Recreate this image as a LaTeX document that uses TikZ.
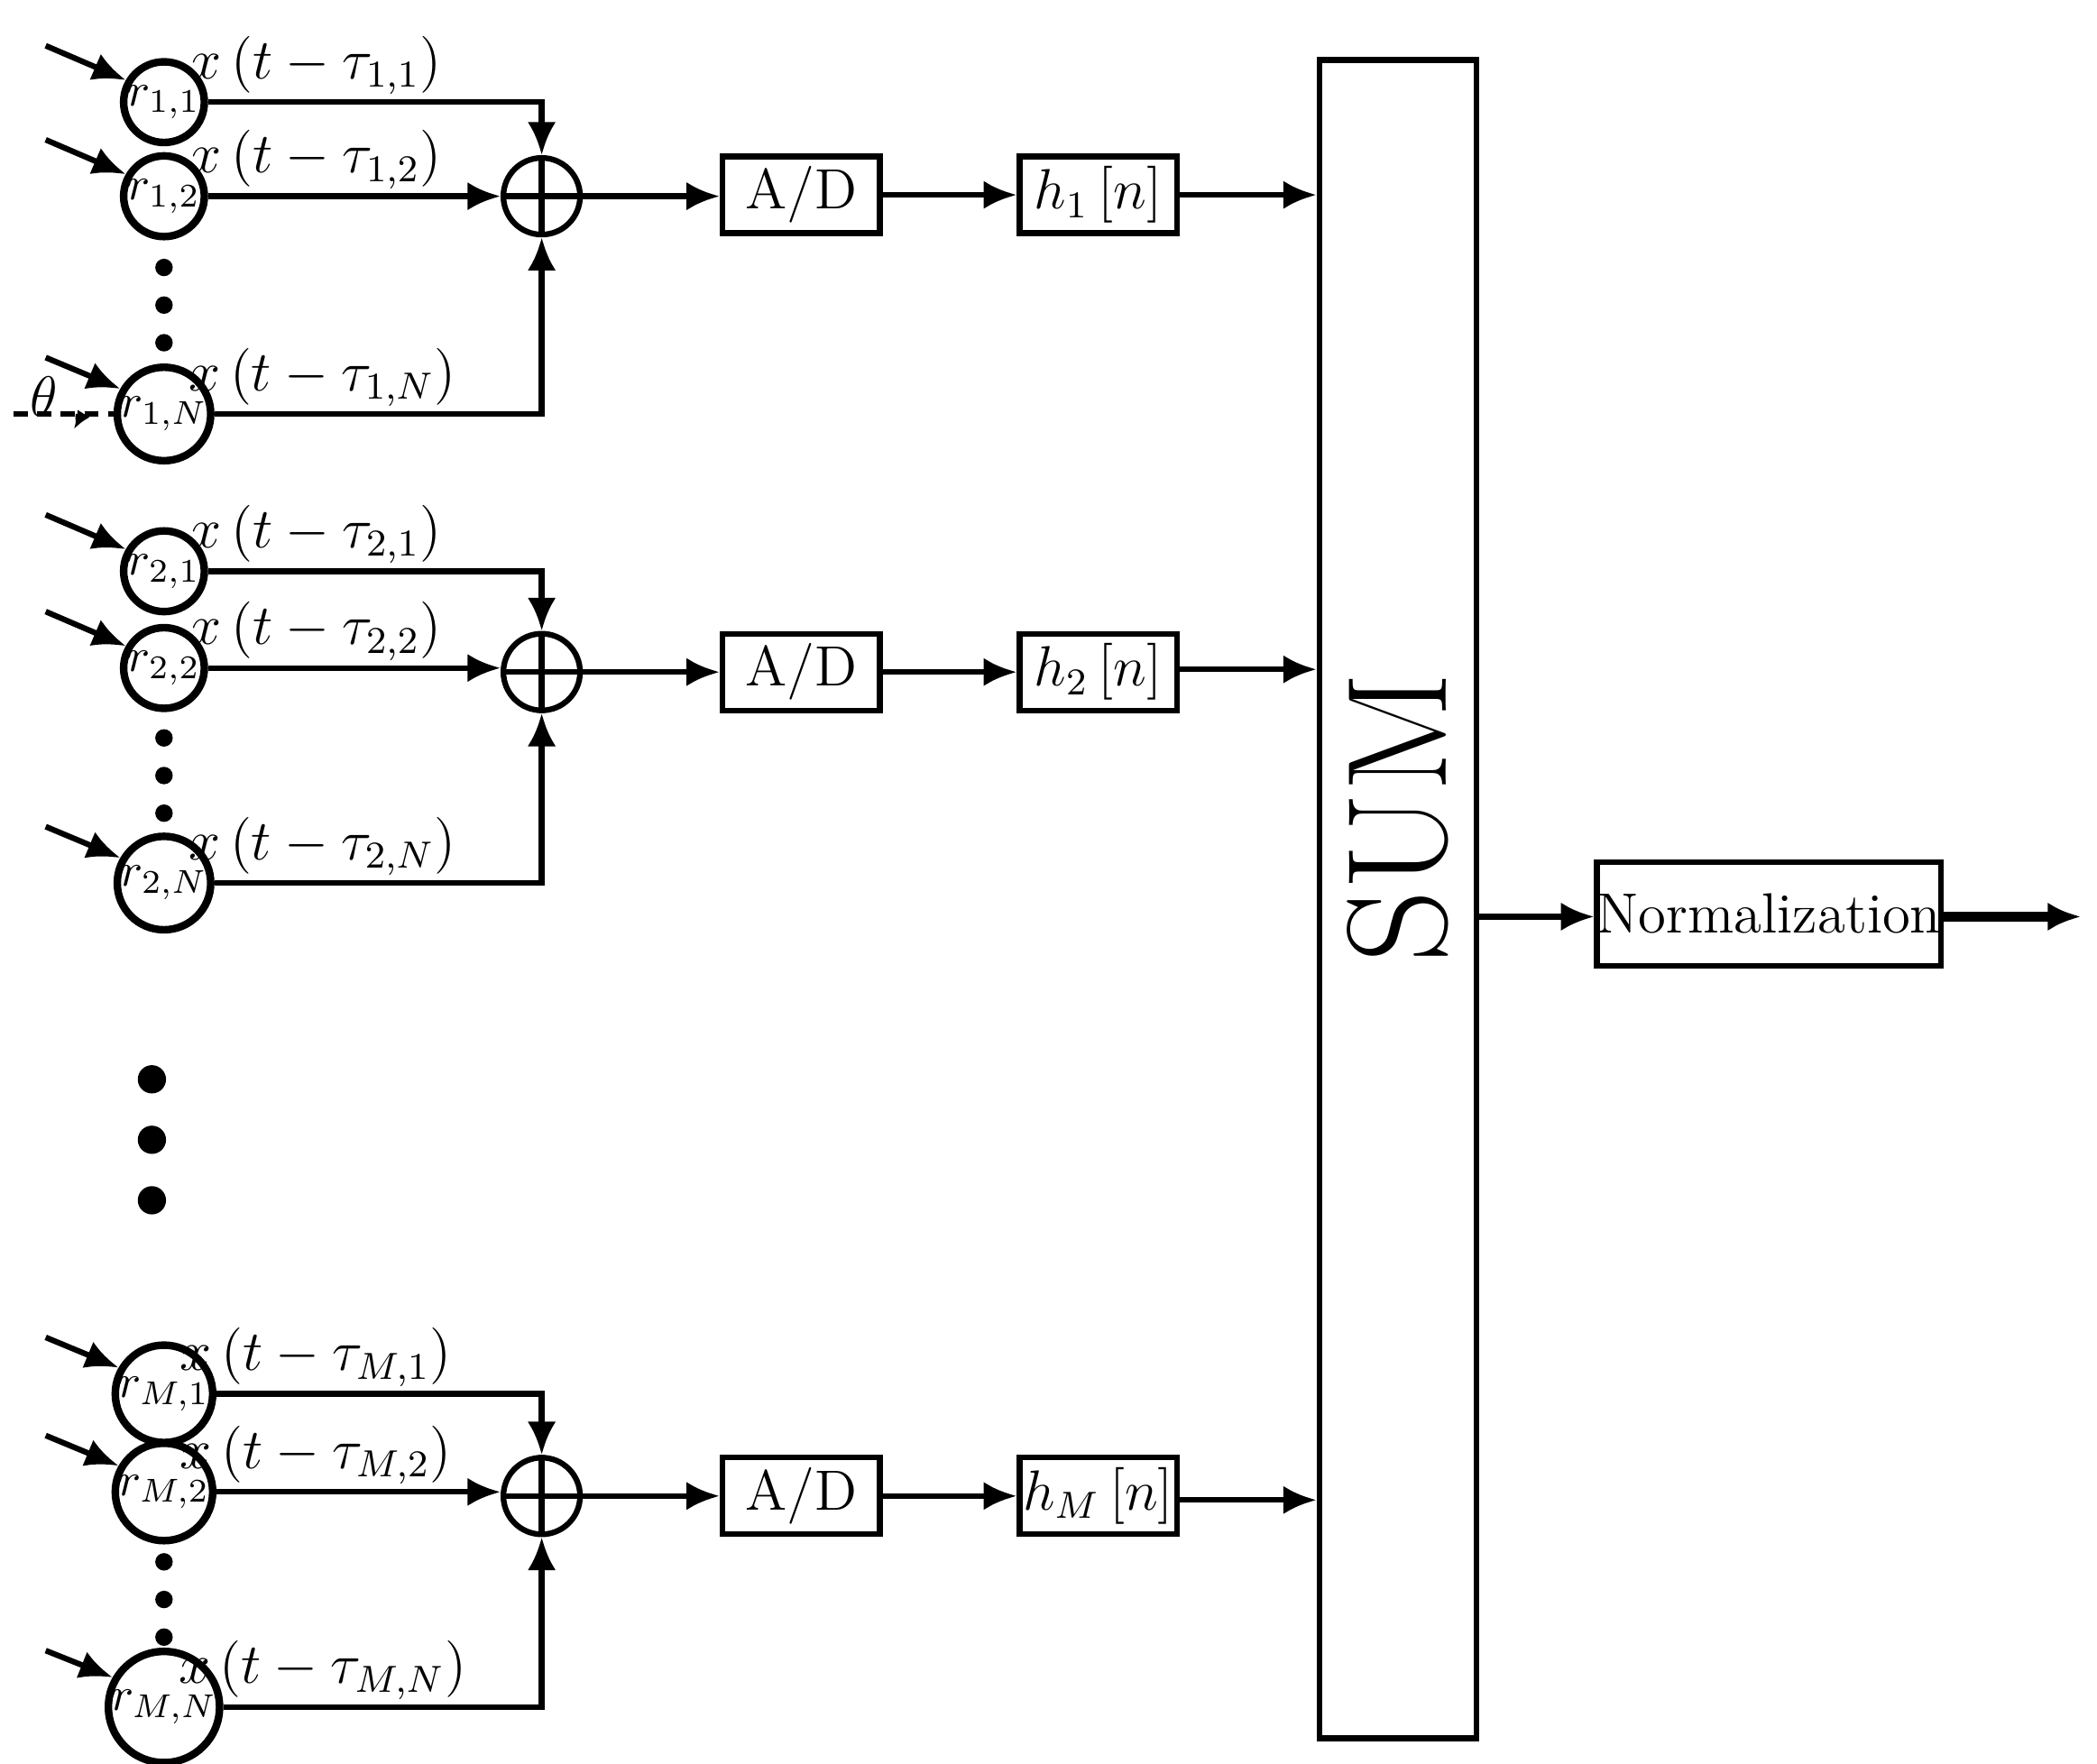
\documentclass[tikz,border=0pt]{standalone}
\usetikzlibrary{arrows.meta,calc}
\begin{document}
\begin{tikzpicture}[x=0.01cm,y=-0.01cm,line width=1.2pt,
 ant/.style={circle,draw,line width=1.6pt,minimum size=0.6cm,inner sep=0pt},
 sm/.style={circle,draw,line width=1.2pt,minimum size=0.57cm,inner sep=0pt},
 box/.style={draw,line width=1.2pt,minimum width=1.17cm,minimum height=0.57cm,inner sep=0pt},
 arr/.style={-{Latex[length=7pt,width=6pt]}},
 dot/.style={circle,fill,inner sep=0pt,minimum size=0.13cm},
 bdot/.style={circle,fill,inner sep=0pt,minimum size=0.21cm},
 lab/.style={anchor=south,inner sep=1pt,font=\large}]
\useasboundingbox (0,0) rectangle (1560,1312);
\node[draw,line width=1.2pt,minimum width=1.17cm,minimum height=12.48cm,inner sep=0pt] (S) at (1040,669) {};
\node[rotate=90,font=\fontsize{30}{32}\selectfont] at (1040,608) {SUM};
\node[box,minimum width=2.25cm,minimum height=0.77cm,font=\large] (nrm) at (1316,680) {Normalization};
\coordinate (sout) at (1099,682);
\draw[arr] (sout) -- (nrm.west|-sout);
\coordinate (fin) at (1548,682);
\draw[arr,line width=2.2pt] (nrm.east|-fin) -- (fin);
\foreach \g/\ya/\yb/\yc/\ys/\ad/\hy in {1/76/146/308/146/145/145, 2/425/497/657/500/500/498, M/1037/1110/1270/1113/1113/1116}{
 \node[ant] (a\g1) at (122,\ya) {$r_{\g,1}$};
 \node[ant] (a\g2) at (122,\yb) {$r_{\g,2}$};
 \node[ant] (a\g3) at (122,\yc) {$r_{\g,N}$};
 \foreach \k in {1,2,3}{
  \coordinate (s\g\k) at ($(a\g\k)+(-88,-42)$);
  \draw[arr] (s\g\k) -- (a\g\k.150);
 }
 \node[dot] (d\g1) at (122,{(\yb+\yc)/2-28}) {};
 \node[dot] (d\g2) at (122,{(\yb+\yc)/2}) {};
 \node[dot] (d\g3) at (122,{(\yb+\yc)/2+28}) {};
 \node[sm] (p\g) at (403,\ys) {};
 \draw (p\g.north)--(p\g.south) (p\g.west)--(p\g.east);
 \coordinate (c\g1) at (403,\ya); \coordinate (c\g3) at (403,\yc);
 \draw[arr] (a\g1.east) -- (c\g1) -- (p\g.north);
 \draw[arr] (a\g2.east) -- (a\g2.east-|p\g.west);
 \draw[arr] (a\g3.east) -- (c\g3) -- (p\g.south);
 \node[lab] at (235,\ya) {$x\left(t-\tau_{\g,1}\right)$};
 \node[lab] at (235,\yb) {$x\left(t-\tau_{\g,2}\right)$};
 \node[lab] at (240,\yc) {$x\left(t-\tau_{\g,N}\right)$};
 \node[box,font=\large] (ad\g) at (596,\ad) {A/D};
 \node[box,font=\large] (h\g) at (817,\ad) {$h_{\g}\left[n\right]$};
 \draw[arr] (p\g.east) -- (ad\g.west|-p\g);
 \draw[arr] (ad\g.east) -- (h\g.west);
 \coordinate (hs\g) at (876,\hy);
 \draw[arr] (hs\g) -- (S.west|-hs\g);
}
\coordinate (th0) at (10,308);
\draw[densely dashed] (th0) -- (a13.west);
\draw[-{Latex[length=4pt]},line width=1pt] (58,308) arc[start angle=0,end angle=32,radius=22];
\node[font=\large] at (33,295) {$\theta$};
\node[bdot] (b1) at (113,803) {};
\node[bdot] (b2) at (113,848) {};
\node[bdot] (b3) at (113,893) {};
\end{tikzpicture}
\end{document}
